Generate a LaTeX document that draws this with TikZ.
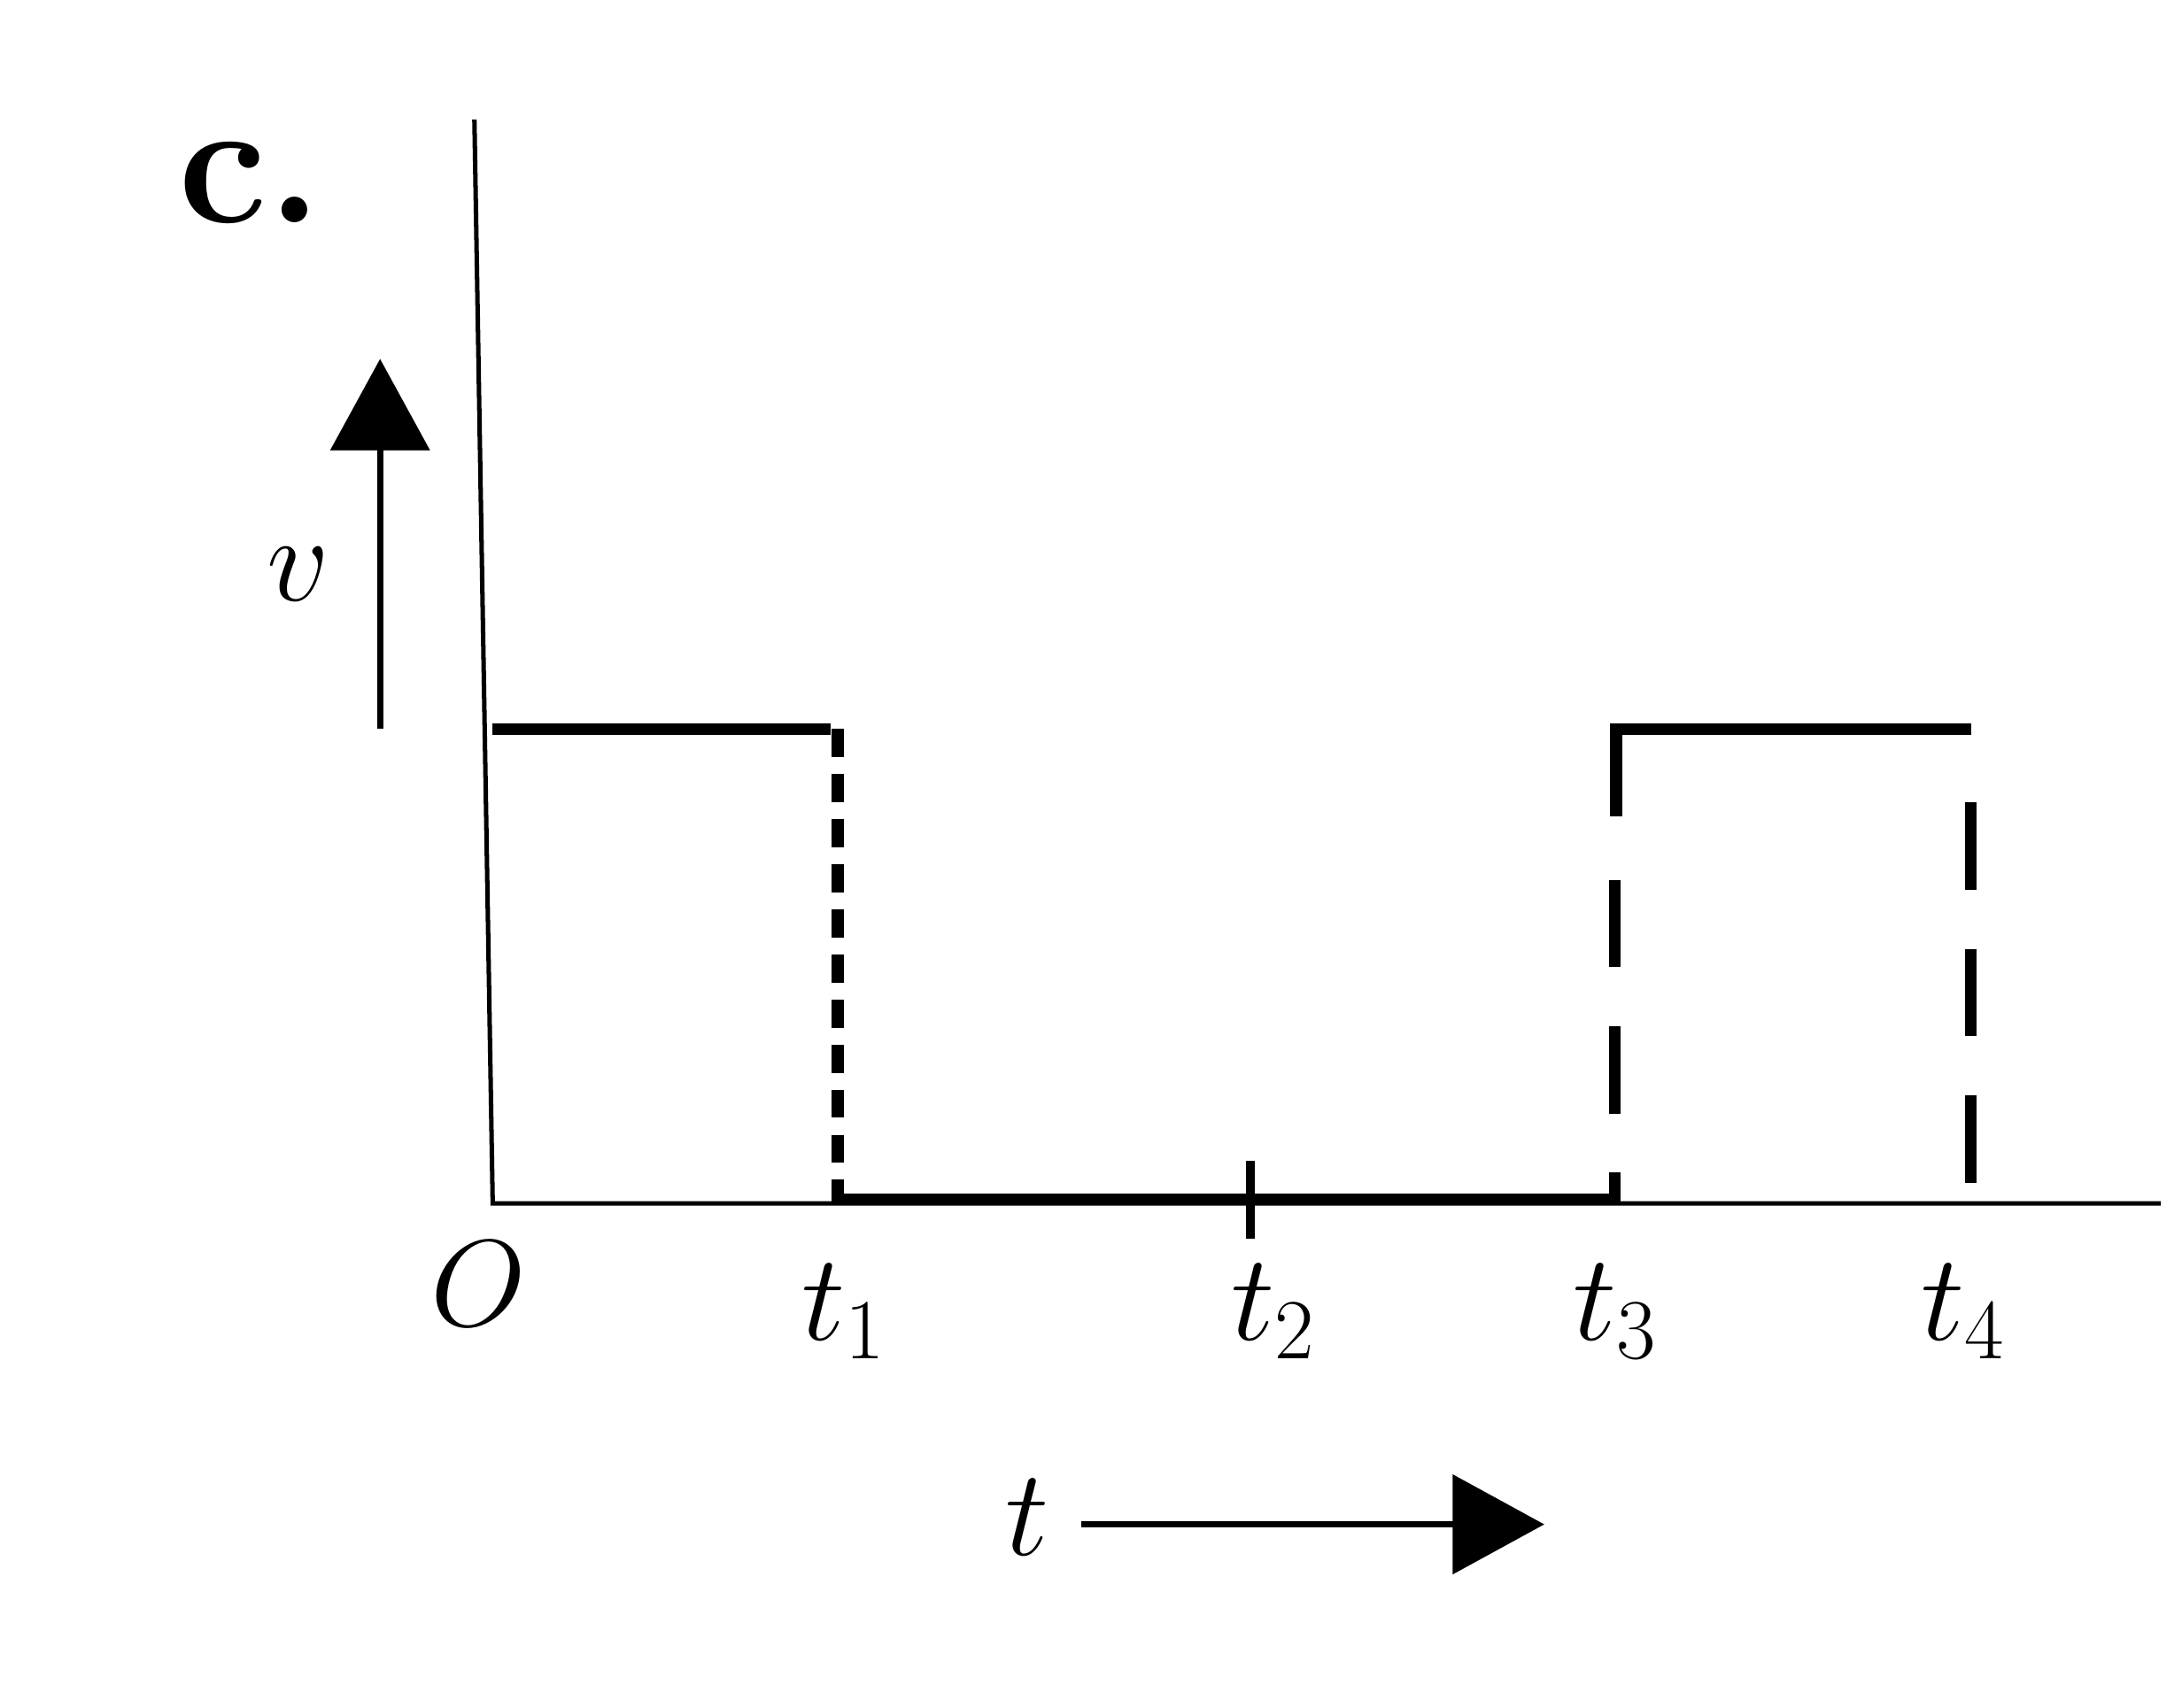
\documentclass[tikz,border=0pt]{standalone}
\usepackage{tikz}
\tikzset{>=latex}
\usetikzlibrary{arrows.meta}
\usetikzlibrary{calc}

\begin{document}
\begin{tikzpicture}[x=0.01cm, y=-0.01cm]
            \tikzset{axis/.style={line width=0.9pt}}
            \tikzset{level/.style={line width=2.4pt}}
            \tikzset{label/.style={font={\fontsize{27}{30}\selectfont}}}
            \tikzset{bigarrow/.style={line width=1.2pt, -{Triangle[length=0.65cm, width=0.7cm]}}}
            \useasboundingbox (0, 0) rectangle (1550, 1213);
            % axes
            \coordinate (top) at (337, 85);
            \coordinate (origin) at (350, 855);
            \coordinate (xend) at (1535, 855);
            \draw[axis] (top) -- (origin) -- (xend);
            % velocity levels
            \draw[level] (350, 518) -- (590, 518);
            \draw[level] (1148, 580) -- (1148, 518) -- (1400, 518);
            \draw[level] (595, 852) -- (1147, 852);
            \draw[level, dash pattern=on 0.2cm off 0.12cm] (595, 518) -- (595, 855);
            \draw[level, dash pattern=on 0.62cm off 0.42cm] (1147, 625) -- (1147, 855);
            \draw[level, dash pattern=on 0.62cm off 0.42cm] (1400, 570) -- (1400, 855);
            \draw[axis, line width=1.8pt] (888, 825) -- (888, 880);
            % labels
            \node[label] (o) at (340, 912) {\(O\)};
            \node[label] (t1) at (600, 932) {\(t_1\)};
            \node[label] (t2) at (905, 932) {\(t_2\)};
            \node[label] (t3) at (1148, 932) {\(t_3\)};
            \node[label] (t4) at (1395, 932) {\(t_4\)};
            \node[label] (vlab) at (212, 408) {\(v\)};
            \node[font={\fontsize{36}{40}\selectfont\bfseries}] (c) at (178, 130) {c.};
            % direction arrows
            \coordinate (vfoot) at (270, 518);
            \coordinate (vtip) at (270, 255);
            \draw[bigarrow] (vfoot) -- (vtip);
            \node[label] (tlab) at (730, 1078) {\(t\)};
            \coordinate (ttip) at (1097, 1083);
            \draw[bigarrow] (tlab.east) ++(10, 5) -- (ttip);
        \end{tikzpicture}
\end{document}
